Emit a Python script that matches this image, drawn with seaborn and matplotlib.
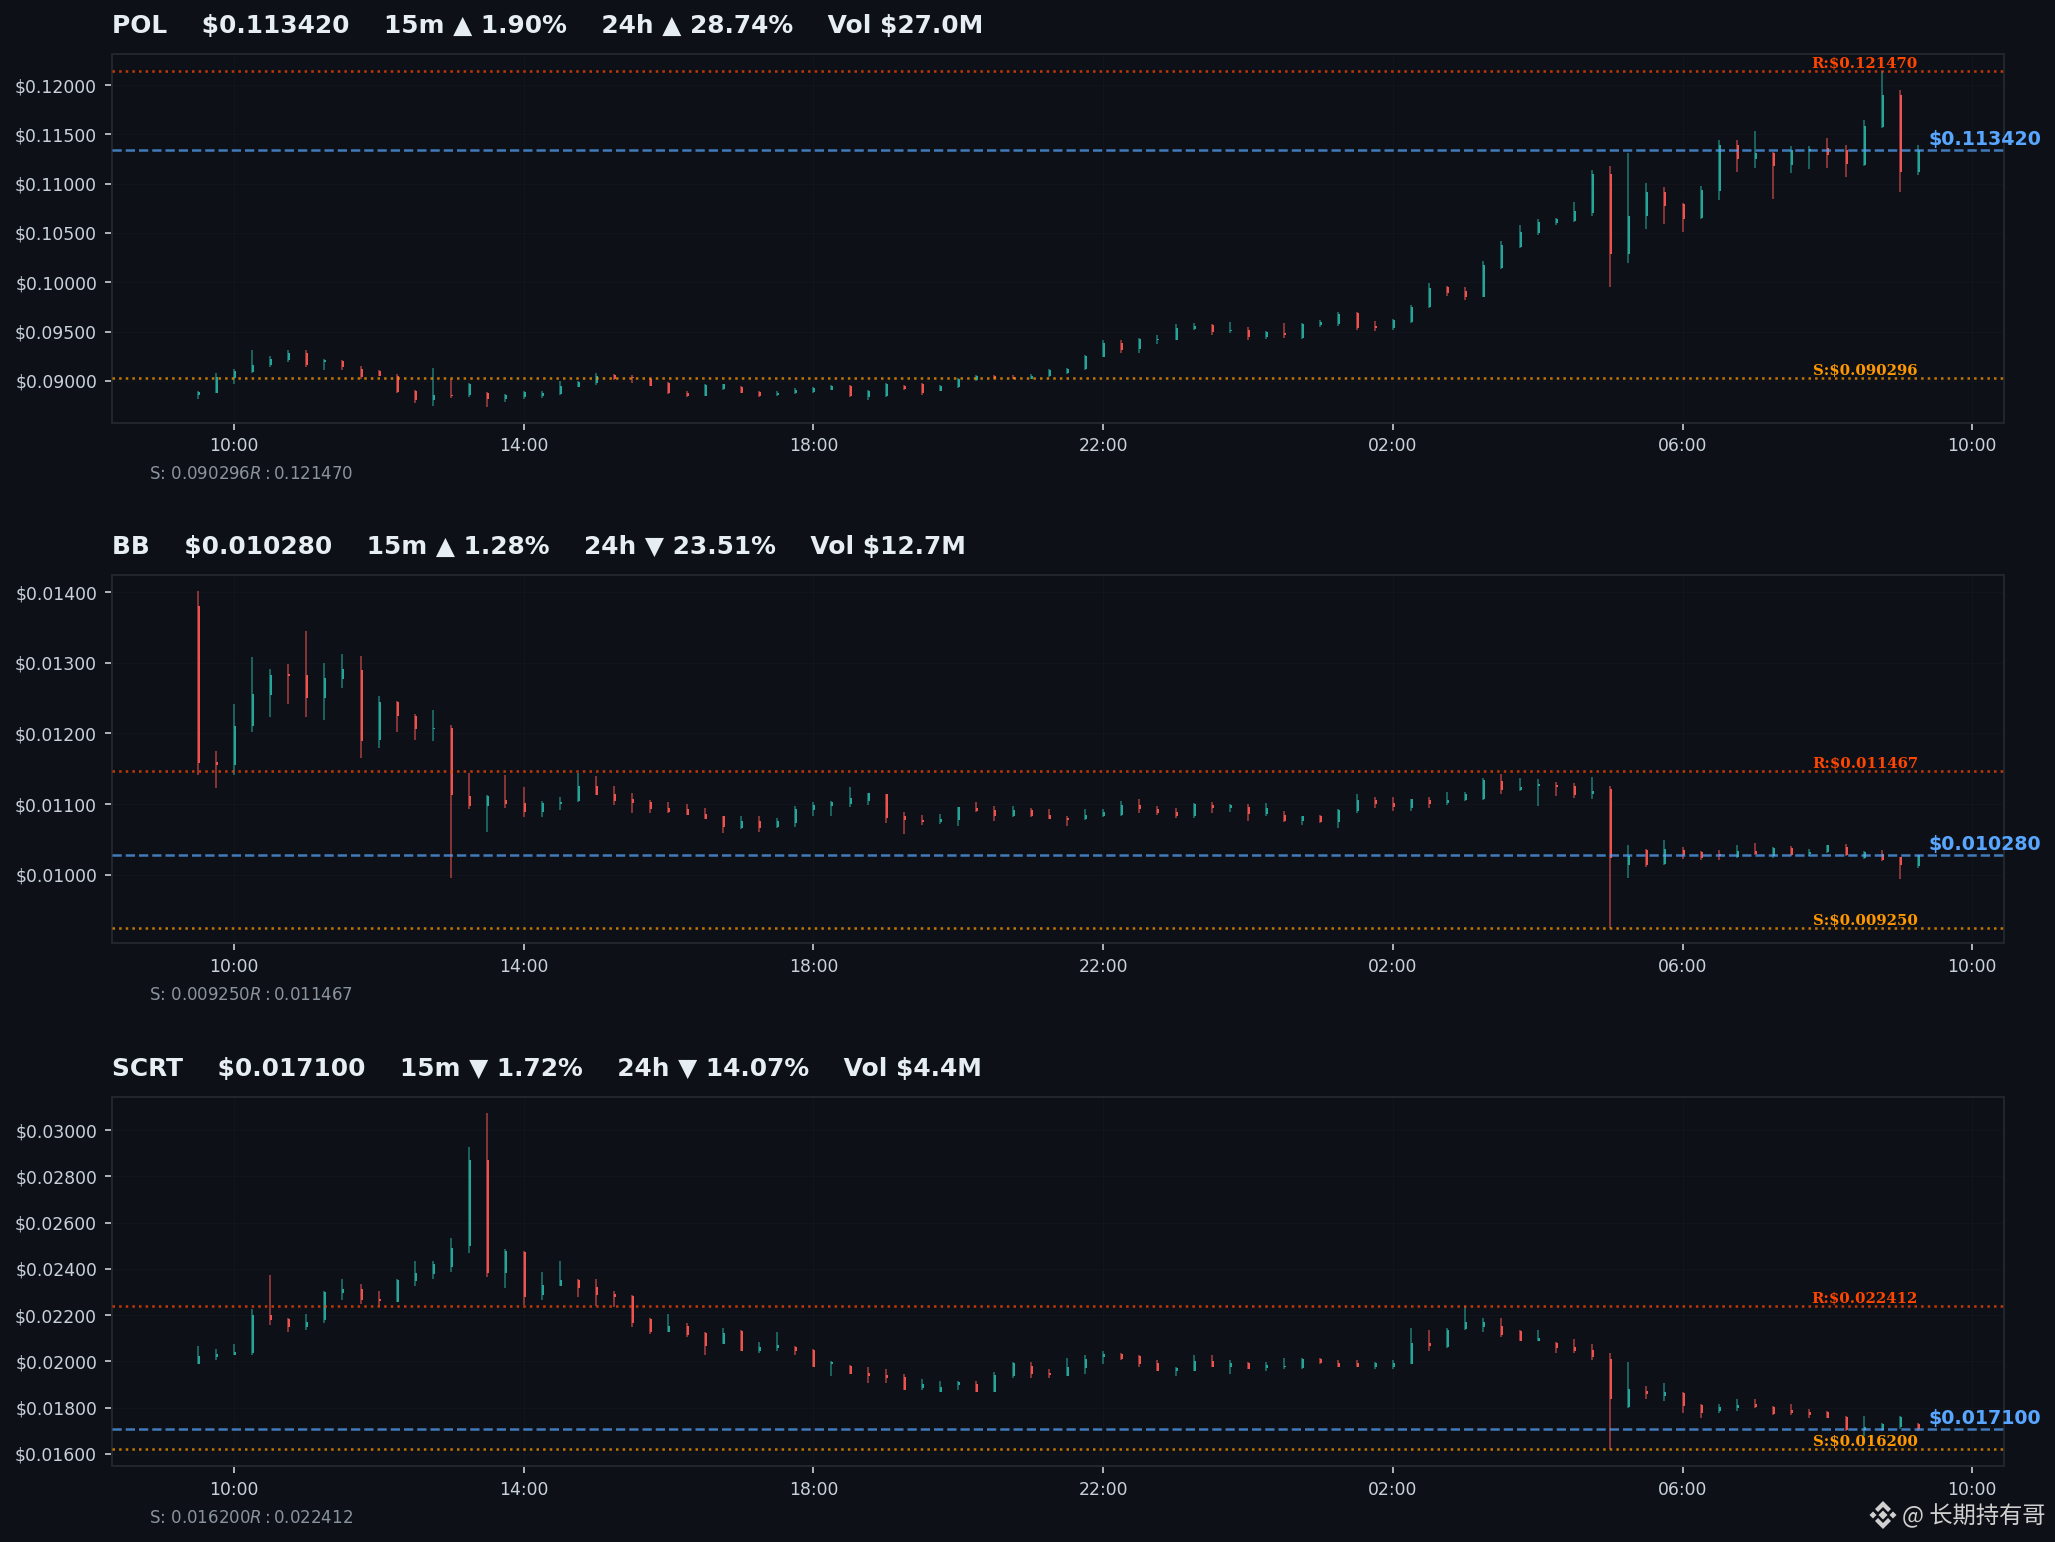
import numpy as np
import pandas as pd
import matplotlib
matplotlib.use("Agg")
import matplotlib.pyplot as plt
import matplotlib.dates as mdates
from matplotlib.patches import Polygon
from matplotlib.ticker import FuncFormatter
from matplotlib.transforms import IdentityTransform
import seaborn as sns

# ---- POL, prices in units of 0.00001 USD
pol_open = [8857,8880,9033,9086,9161,9212,9279,9191,9198,9120,9100,9053,8897,8810,8857,8857,8874,8813,8840,8847,
            8867,8941,8975,9059,9043,9019,8975,8880,8850,8914,8941,8887,8857,8874,8890,8907,8948,8840,8847,8948,
            8968,8901,8935,9009,9049,9043,9019,9049,9076,9120,9245,9381,9327,9418,9414,9523,9567,9506,9516,9448,
            9482,9431,9567,9577,9685,9556,9533,9600,9746,9955,9915,9854,10141,10361,10496,10604,10621,10699,11098,10286,
            10672,10915,10793,10648,10925,11392,11250,11314,11189,11334,11358,11341,11189,11571,11899,11118]
pol_high = [8897,9080,9120,9313,9252,9313,9313,9221,9211,9147,9110,9066,8907,9127,9016,8982,8884,8867,8894,8894,
            8999,8999,9076,9070,9059,9026,8992,8894,8968,8968,8948,8894,8894,8928,8935,8958,8958,8907,8975,8958,
            8975,8958,9026,9056,9056,9056,9066,9120,9130,9259,9411,9411,9431,9465,9577,9587,9577,9597,9546,9506,
            9587,9587,9617,9698,9698,9607,9627,9769,9992,9962,9952,10215,10418,10581,10641,10651,10814,11138,11179,11311,
            11006,10966,10804,10976,11442,11442,11534,11321,11382,11382,11463,11392,11645,12147,11949,11392]
pol_low = [8816,8877,8968,9083,9144,9195,9144,9110,9113,9022,9049,8880,8779,8749,8826,8840,8738,8789,8813,8830,
           8860,8938,8958,9009,8982,8948,8870,8840,8847,8907,8874,8840,8847,8867,8880,8907,8840,8806,8840,8907,
           8857,8897,8928,9002,9016,9016,9016,9043,9070,9113,9242,9283,9283,9374,9414,9516,9465,9485,9414,9424,
           9435,9424,9546,9556,9516,9509,9516,9587,9739,9861,9820,9850,10134,10347,10479,10581,10611,10672,9952,10195,
           10540,10591,10509,10641,10834,11118,11159,10844,11108,11148,11159,11067,11179,11564,10915,11087]
pol_close = [8887,9036,9103,9161,9218,9279,9161,9215,9140,9036,9053,8887,8806,8857,8850,8968,8816,8857,8887,8880,
             8948,8985,9049,9016,9026,8951,8874,8847,8958,8965,8880,8847,8880,8907,8924,8948,8847,8901,8968,8914,
             8880,8951,9016,9049,9026,9022,9053,9110,9124,9252,9381,9313,9421,9428,9533,9556,9492,9516,9441,9499,
             9465,9577,9600,9678,9533,9536,9617,9752,9938,9888,9847,10175,10378,10513,10614,10638,10723,11098,10286,10672,
             10915,10773,10641,10935,11392,11250,11307,11179,11341,11351,11290,11199,11584,11899,11118,11342]

# ---- BB, prices in units of 0.000001 USD
bb_open = [13803,11598,11555,12107,12545,12841,12827,12507,12771,12898,11909,12446,12253,12064,12078,11117,10967,11061,11014,10891,
           11000,11037,11259,11146,11070,11032,10948,10933,10860,10825,10660,10755,10670,10736,10919,10967,11004,11042,11136,10825,
           10778,10750,10778,10948,10919,10835,10919,10849,10806,10783,10830,10849,10990,10934,10891,10835,10985,10948,10962,10860,
           10849,10755,10825,10750,10905,11061,11018,10948,11061,11014,11061,11070,11329,11202,11249,11273,11259,11141,11216,10142,
           10354,10156,10354,10326,10298,10255,10340,10269,10382,10293,10317,10396,10241,10293,10245,10128]
bb_high = [14015,11753,12418,13082,12912,12983,13449,12997,13124,13096,12531,12460,12276,12333,12121,11438,11127,11414,11245,11047,
           11103,11447,11400,11259,11160,11061,11032,11004,10948,10835,10835,10835,10806,10976,11032,11047,11245,11160,11146,10891,
           10849,10863,10962,11032,10976,10976,10948,10934,10835,10934,10934,11047,11075,10976,10948,11018,11032,11004,11004,11018,
           10905,10835,10849,10934,11146,11103,11103,11075,11103,11174,11174,11372,11428,11372,11358,11315,11301,11386,11259,10425,
           10368,10495,10396,10340,10354,10425,10453,10396,10411,10368,10425,10439,10340,10354,10255,10283]
bb_low = [11405,11221,11414,12022,12234,12418,12234,12191,12644,11654,11796,12022,11909,11895,9958,10934,10608,10948,10821,10821,
          10919,11032,11122,10990,10877,10877,10877,10839,10792,10594,10651,10608,10665,10679,10835,10835,10962,10990,10736,10580,
          10707,10721,10693,10891,10764,10821,10821,10792,10693,10778,10821,10835,10877,10849,10806,10806,10877,10891,10764,10835,
          10750,10707,10736,10665,10877,10948,10905,10905,10948,10990,11047,11061,11146,11188,10976,11117,11089,11075,9250,9958,
          10114,10142,10227,10213,10213,10241,10283,10241,10269,10269,10312,10269,10227,10199,9944,10100]
bb_close = [11588,11555,12107,12559,12827,12813,12507,12785,12912,11895,12446,12248,12064,12078,11122,10967,11108,11004,10891,11014,
            11028,11249,11131,11047,11018,10933,10891,10849,10792,10679,10755,10665,10755,10934,10990,11032,11089,11150,10806,10778,
            10750,10792,10952,10905,10835,10919,10835,10792,10778,10849,10891,10990,10934,10872,10835,11004,10948,10985,10858,10940,
            10755,10825,10741,10919,11061,11004,10962,11066,11004,11061,11146,11343,11193,11240,11287,11245,11131,11188,10241,10260,
            10142,10368,10283,10236,10269,10340,10298,10382,10283,10326,10415,10279,10321,10203,10142,10280]

# ---- SCRT, prices in units of 0.000001 USD
scrt_open = [19905,20208,20280,20352,22009,21850,21476,21793,22974,23147,22686,22585,23479,23781,24084,24992,28710,23810,24747,22874,
             23277,23522,23219,22917,22830,21836,21288,21533,21231,20770,21303,20453,20568,20611,20496,19891,19804,19487,19415,19343,
             18839,18695,18983,19026,18695,19372,19804,19516,19386,19703,20179,20323,20236,19934,19602,19602,20021,19761,19948,19703,
             19776,19703,20121,19934,19934,19761,19761,19905,20798,20611,21389,21504,21533,21303,20899,20784,20611,20496,20107,18017,
             18738,18508,18651,18133,17844,17988,18147,18046,17902,17816,17830,17614,17037,17037,17181,17297]
scrt_high = [20669,20539,20755,22268,23738,21879,22052,23047,23565,23349,23047,23565,24343,24343,25338,29272,30741,24862,24775,23868,
             24343,23565,23565,23047,22874,21879,22052,21663,21274,21447,21360,20842,21274,20669,20539,20021,19847,19761,19674,19458,
             19242,19156,19156,19156,19545,19977,19977,19674,20150,20280,20453,20366,20280,20064,19761,20280,20280,20064,19977,19977,
             20150,20150,20150,20064,20064,19977,20064,21447,21360,21447,22398,21879,21879,21360,21360,20842,20971,20755,20366,19977,
             18939,19069,18680,18161,18161,18378,18378,18075,18161,17945,17859,17643,17643,17340,17643,17340]
scrt_low = [19891,20064,20280,20280,21577,21274,21360,21663,22657,22470,22398,22557,23263,23565,23868,24689,23652,23176,22441,22657,
            23263,22787,22398,22355,21490,21188,21274,21058,20280,20755,20453,20366,20453,20280,19761,19372,19458,19069,19069,18767,
            18767,18680,18767,18680,18680,19285,19285,19285,19372,19458,19891,20064,19761,19588,19372,19588,19761,19458,19674,19588,
            19674,19674,19891,19761,19761,19674,19674,19891,20453,20582,21360,21274,21058,20885,20885,20366,20366,20064,16200,17988,
            18378,18291,17772,17556,17772,17859,17988,17686,17686,17556,17556,16994,16778,16994,17081,16994]
scrt_close = [20236,20323,20395,22009,21793,21504,21721,23018,23147,22657,22600,23522,23825,24214,24905,28710,23810,24775,22801,23306,
              23522,23176,22874,22787,21663,21274,21533,21144,20669,21217,20467,20625,20712,20453,19776,19992,19473,19372,19271,18781,
              19026,18911,19127,18695,19415,19919,19458,19415,19747,20107,20323,20093,19891,19602,19732,20021,19776,19934,19689,19833,
              19804,20121,19948,19776,19776,19934,19934,20798,20669,21360,21721,21721,21144,20899,21000,20568,20467,20208,18378,18810,
              18594,18695,18075,17787,18017,18118,18017,17744,17787,17686,17571,17023,17181,17297,17614,17100]

symbols = ["POL", "BB", "SCRT"]
prices = [0.113420, 0.010280, 0.017100]
supports = [0.090296, 0.009250, 0.016200]
resistances = [0.121470, 0.011467, 0.022412]
titles = ["POL    \\$0.113420    15m \u25b2 1.90%    24h \u25b2 28.74%    Vol \\$27.0M",
          "BB    \\$0.010280    15m \u25b2 1.28%    24h \u25bc 23.51%    Vol \\$12.7M",
          "SCRT    \\$0.017100    15m \u25bc 1.72%    24h \u25bc 14.07%    Vol \\$4.4M"]
footers = ["S: $0.090296    R: $0.121470", "S: $0.009250    R: $0.011467", "S: $0.016200    R: $0.022412"]
y_ticks = [[0.09, 0.095, 0.10, 0.105, 0.11, 0.115, 0.12],
           [0.010, 0.011, 0.012, 0.013, 0.014],
           [0.016, 0.018, 0.020, 0.022, 0.024, 0.026, 0.028, 0.030]]
y_limits = [(0.08576, 0.12318), (0.009035, 0.014241), (0.015481, 0.031433)]
series = [(pol_open, pol_high, pol_low, pol_close, 1e-5),
          (bb_open, bb_high, bb_low, bb_close, 1e-6),
          (scrt_open, scrt_high, scrt_low, scrt_close, 1e-6)]
times = pd.date_range("2024-01-01 09:30", periods=96, freq="15min")

BG = "#0d1117"
UP = "#26a69a"
DOWN = "#ef5350"
sns.set_theme(style="dark", rc={
    "figure.facecolor": BG, "axes.facecolor": BG, "savefig.facecolor": BG,
    "axes.edgecolor": "#21262d", "axes.linewidth": 1.0,
    "xtick.bottom": True, "ytick.left": True,
    "xtick.color": "#c9d1d9", "ytick.color": "#c9d1d9",
    "xtick.labelsize": 8.3, "ytick.labelsize": 8.3,
    "xtick.major.size": 3.5, "ytick.major.size": 3.5,
    "xtick.major.width": 0.8, "ytick.major.width": 0.8,
})
plt.rcParams["font.family"] = ["DejaVu Sans", "Noto Sans CJK SC"]

W, H = 2055, 1542
fig = plt.figure(figsize=(W / 150, H / 150), dpi=150)
tops = [53.7, 575, 1097]
bottoms = [422.7, 943, 1466]
L, R = 111.6, 2004

x = mdates.date2num(times)
span = x[-1] - x[0]
body_w = 2.0 / 1738.5

for k in range(3):
    o, h, l, c, unit = series[k]
    df = pd.DataFrame({"open": o, "high": h, "low": l, "close": c}, dtype=float) * unit
    df["x"] = x
    up = df["close"] >= df["open"]
    ax = fig.add_axes([L / W, 1 - bottoms[k] / H, (R - L) / W, (bottoms[k] - tops[k]) / H])
    ax.grid(True, color="white", alpha=0.02, lw=0.6)
    ax.set_axisbelow(True)
    colors = [UP if u else DOWN for u in up]
    ax.vlines(df["x"], df["low"], df["high"], colors=colors, lw=0.85, alpha=0.6, zorder=2)
    ax.bar(df["x"], (df["close"] - df["open"]).abs(), bottom=df[["open", "close"]].min(axis=1),
           width=body_w, align="edge", color=colors, lw=0, zorder=3)
    ax.axhline(prices[k], color="#58a6ff", ls="--", lw=1.2, alpha=0.7, zorder=4)
    ax.axhline(supports[k], color="#ff9800", ls=":", lw=1.2, alpha=0.75, zorder=4)
    ax.axhline(resistances[k], color="#ff4500", ls=":", lw=1.2, alpha=0.75, zorder=4)
    ax.text(x[-1], resistances[k], f"R:${resistances[k]:.6f}", color="#ff4500", fontsize=7.15,
            fontweight="bold", family="DejaVu Serif", ha="right", va="bottom", zorder=5)
    ax.text(x[-1], supports[k], f"S:${supports[k]:.6f}", color="#ff9800", fontsize=7.15,
            fontweight="bold", family="DejaVu Serif", ha="right", va="bottom", zorder=5)
    ax.annotate(f"${prices[k]:.6f}", (x[-1], prices[k]), xytext=(5.2, 0.4), textcoords="offset points",
                color="#58a6ff", fontsize=9.1, fontweight="bold", ha="left", va="bottom",
                annotation_clip=False, zorder=5)
    ax.set_xlim(x[0] - 0.05 * span, x[-1] + 0.05 * span)
    ax.set_ylim(*y_limits[k])
    ax.set_yticks(y_ticks[k])
    ax.yaxis.set_major_formatter(FuncFormatter(lambda v, _: f"${v:.5f}"))
    ax.xaxis.set_major_locator(mdates.HourLocator(byhour=range(2, 24, 4)))
    ax.xaxis.set_major_formatter(mdates.DateFormatter("%H:%M"))
    ax.set_title(titles[k], loc="left", color="#e6edf3", fontsize=11.95, fontweight="bold", pad=10)
    ax.text(0.02, -0.14, footers[k], transform=ax.transAxes, color="#8b949e", fontsize=8,
            ha="left", va="center")
    sns.despine(ax=ax, top=False, right=False)

# watermark
cx, cy = 1883, 1515
logo = [[(0, -4.5), (4.5, 0), (0, 4.5), (-4.5, 0)],
        [(-10, -3.5), (-6.5, 0), (-10, 3.5), (-13.5, 0)],
        [(10, -3.5), (13.5, 0), (10, 3.5), (6.5, 0)],
        [(0, -14), (8, -6), (5, -3), (0, -8), (-5, -3), (-8, -6)],
        [(0, 14), (8, 6), (5, 3), (0, 8), (-5, 3), (-8, 6)]]
for shape in logo:
    pts = [(cx + a, H - (cy + b)) for a, b in shape]
    fig.add_artist(Polygon(pts, closed=True, transform=IdentityTransform(), fc="#d0d0d0", ec="none"))
fig.text(2045 / W, 1 - 1516 / H, "@ \u957f\u671f\u6301\u6709\u54e5", color="#d0d0d0", fontsize=11.2,
         ha="right", va="center", family=["Noto Sans CJK SC", "DejaVu Sans"])

fig.savefig("out.png", dpi=150)
